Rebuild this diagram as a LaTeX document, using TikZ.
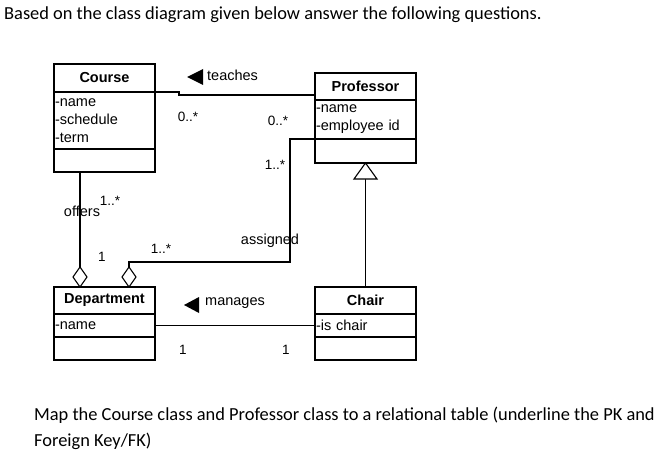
\documentclass[tikz,border=0pt]{standalone}
\usepackage{fontspec}
\setmainfont{Liberation Sans}
\newfontfamily\calfont{Carlito}
\usetikzlibrary{calc, positioning, shapes.geometric}

\begin{document}
\begin{tikzpicture}[x=1pt, y=-1pt, node distance=0pt]
	\tikzstyle{head} = [draw, line width=1.2pt, outer sep=0pt, minimum width=101pt, inner sep=0pt, font=\fontsize{14.5}{17}\selectfont\bfseries]
	\tikzstyle{part} = [draw, line width=1.2pt, outer sep=0pt, text width=99pt, inner xsep=1pt, inner ysep=0pt, align=left, font=\fontsize{14.5}{18}\selectfont]
	\tikzstyle{agg} = [draw, line width=1.1pt, diamond, fill=white, minimum width=14pt, minimum height=20pt, inner sep=0pt, outer sep=0pt, anchor=south]
	\tikzstyle{conn} = [line width=1.1pt]
	\tikzstyle{lbl} = [inner sep=0pt, font=\fontsize{14.5}{17}\selectfont]
	\tikzstyle{mult} = [inner sep=0pt, font=\fontsize{13.5}{15}\selectfont]
	\tikzstyle{txt} = [inner sep=0pt, anchor=base west, font=\calfont\fontsize{18.4}{22}\selectfont]
	
	\useasboundingbox (0,0) rectangle (659,460);
	
	\node[txt] at (4,20) (title) {Based on the class diagram given below answer the following questions.};
	\node[txt] at (34,420) (task1) {Map the Course class and Professor class to a relational table (underline the PK and};
	\node[txt] at (34,446) (task2) {Foreign Key/FK)};
	
	% classes
	\node[head, minimum height=28pt, anchor=north west] at (54,64) (courseh) {Course};
	\node[part, minimum height=57pt, below=of courseh] (coursea) {-name\\-schedule\\-term};
	\node[part, minimum height=23pt, below=of coursea] (coursee) {};
	
	\node[head, minimum height=27pt, anchor=north west] at (315,73) (profh) {Professor};
	\node[part, minimum height=39pt, below=of profh] (profa) {-name\\-employee id};
	\node[part, minimum height=24pt, below=of profa] (profe) {};
	
	\node[head, minimum height=27pt, anchor=north west] at (54,287) (deph) {Department};
	\node[part, minimum height=23pt, below=of deph] (depa) {-name};
	\node[part, minimum height=23pt, below=of depa] (depe) {};
	
	\node[head, minimum height=27pt, anchor=north west] at (315,287) (chairh) {Chair};
	\node[part, minimum height=23pt, below=of chairh] (chaira) {-is chair};
	\node[part, minimum height=23pt, below=of chaira] (chaire) {};
	
	% aggregations
	\node[agg] at ($(deph.north west)+(26,0)$) (offersd) {};
	\node[agg] at ($(deph.north west)+(75,0)$) (assignd) {};
	\coordinate (abend) at (290,262);
	\coordinate (tjog) at (179,95);
	\coordinate (tribase) at ($(profe.south)+(0,16)$);
	
	\draw[conn] (offersd |- coursee.south) -- (offersd.north);
	\draw[conn] (profa.south west) -| (abend) -| (assignd.north);
	\draw[conn] (courseh.south east) -| (tjog) -- (tjog -| profh.west);
	\draw[conn] (depa.east) -- (chaira.west);
	\draw[conn] (tribase) -- (chairh.north);
	\draw[conn, fill=white] (profe.south) -- ($(tribase)+(11.5,0)$) -- ($(tribase)+(-11.5,0)$) -- cycle;
	
	% labels
	\fill (187,77) -- (203,69) -- (203,85) -- cycle;
	\node[lbl, anchor=west] at (207,75) (teaches) {teaches};
	\fill (184,305) -- (199,297) -- (199,313) -- cycle;
	\node[lbl, anchor=west] at (205,303) (manages) {manages};
	\node[lbl] at (82,211) (offers) {offers};
	\node[lbl] at (270,241) (assigned) {assigned};
	
	\node[mult] at (188,117) (m1) {0..*};
	\node[mult] at (278,121) (m2) {0..*};
	\node[mult] at (275,165) (m3) {1..*};
	\node[mult] at (110,201) (m4) {1..*};
	\node[mult] at (102,257) (m5) {1};
	\node[mult] at (161,249) (m6) {1..*};
	\node[mult] at (183,350) (m7) {1};
	\node[mult] at (286,350) (m8) {1};
\end{tikzpicture}
\end{document}
